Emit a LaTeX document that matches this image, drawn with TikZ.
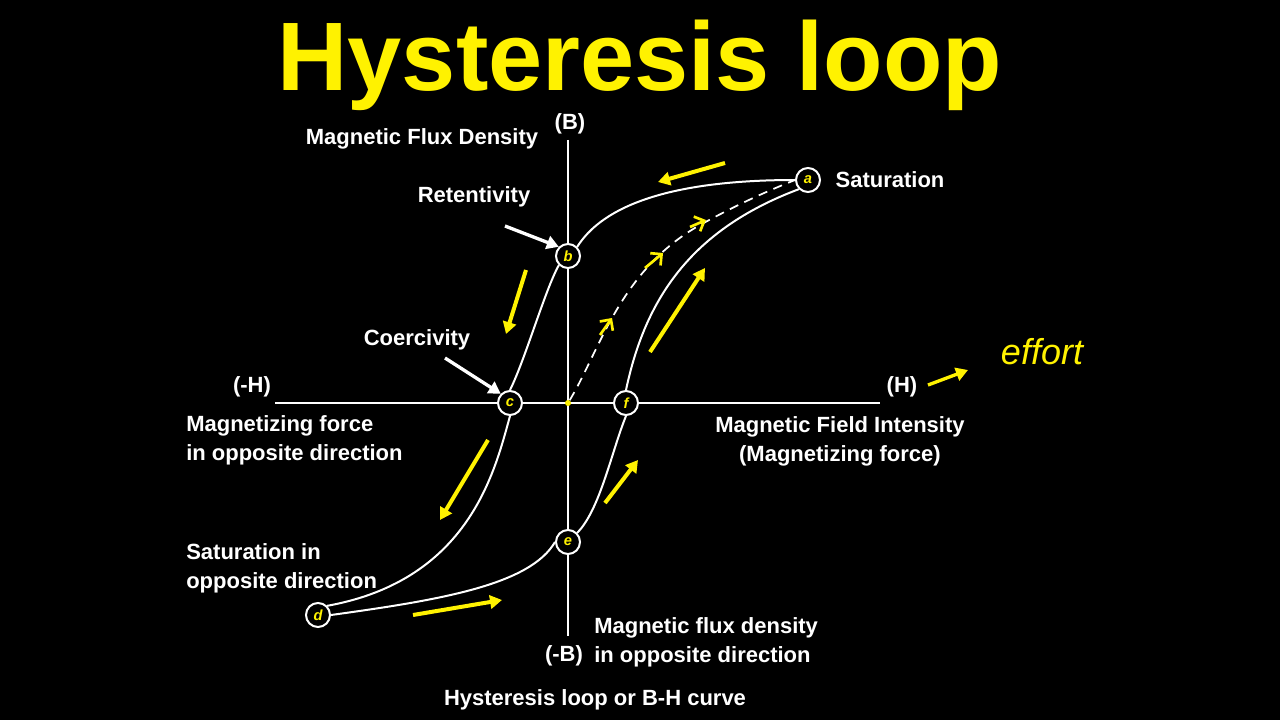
\documentclass[tikz,border=0pt]{standalone}
\usepackage{fontspec}
\setmainfont{Liberation Sans}
\usetikzlibrary{arrows.meta}
\begin{document}
\begin{tikzpicture}[x=0.75pt,y=-0.75pt,
  lbl/.style={text=white,font=\bfseries\fontsize{16.5}{19}\selectfont,align=left,inner sep=0pt},
  pt/.style={circle,draw=white,fill=black,line width=1.5pt,minimum size=18pt,inner sep=0pt,text=yellow,font=\bfseries\itshape\fontsize{11}{11}\selectfont},
  curve/.style={white,line width=1.5pt},
  yarr/.style={yellow,line width=3pt,-{Triangle[length=9pt,width=10pt]}},
  warr/.style={white,line width=2.5pt,-{Triangle[length=9pt,width=10pt]}}]
\fill[black] (0,0) rectangle (1280,720);
\useasboundingbox (0,0) rectangle (1280,720);
\node[text=yellow,font=\bfseries\fontsize{73}{76}\selectfont] (title) at (640,65) {Hysteresis loop};
% axes
\coordinate (top) at (568,140); \coordinate (bot) at (568,636);
\coordinate (lft) at (275,403); \coordinate (rgt) at (880,403);
\draw[curve] (top) -- (bot);
\draw[curve] (lft) -- (rgt);
\node[pt] (a) at (808,180) {a};
\node[pt] (b) at (568,256) {b};
\node[pt] (c) at (510,403) {c};
\node[pt] (d) at (318,615) {d};
\node[pt] (e) at (568,542) {e};
\node[pt] (f) at (626,403) {f};
\node[circle,fill=yellow,inner sep=1.6pt] (o) at (568,403) {};
% loop
\draw[curve] (a.west) .. controls (700,180) and (610,195) .. (b.north east);
\draw[curve] (b.south west) .. controls (545,290) and (525,360) .. (c.north);
\draw[curve] (c.south) .. controls (495,470) and (470,580) .. (d.north east);
\draw[curve] (d.east) .. controls (440,600) and (530,585) .. (e.west);
\draw[curve] (e.north east) .. controls (600,510) and (612,450) .. (f.south);
\draw[curve] (f.north) .. controls (645,300) and (690,230) .. (a.south west);
\draw[curve,dash pattern=on 7pt off 5pt,line width=1.3pt] (o) .. controls (600,350) and (620,270) .. (700,225) .. controls (740,203) and (770,190) .. (a.west);
% yellow arrows
\draw[yarr] (725,163) -- (658,182);
\draw[yarr] (526,270) -- (506,334);
\draw[yarr] (488,440) -- (440,520);
\draw[yarr] (413,615) -- (502,600);
\draw[yarr] (605,503) -- (638,460);
\draw[yarr] (650,352) -- (705,268);
\draw[yarr,line width=2pt,-{Straight Barb[length=6pt]}] (600,335) -- (612,318);
\draw[yarr,line width=2pt,-{Straight Barb[length=6pt]}] (645,268) -- (663,253);
\draw[yarr,line width=2pt,-{Straight Barb[length=6pt]}] (690,227) -- (706,220);
\draw[yarr,line width=2.5pt] (928,385) -- (968,370);
\node[text=yellow,font=\itshape\fontsize{27}{30}\selectfont] (eff) at (1042,352) {effort};
% white pointers
\coordinate (rt) at (505,226); \coordinate (ct) at (445,358);
\draw[warr] (rt) -- (b.north west);
\draw[warr] (ct) -- (c.north west);
% labels
\node[lbl] (B) at (570,124) {(B)};
\node[lbl] (mfd) at (422,139) {Magnetic Flux Density};
\node[lbl] (ret) at (474,197) {Retentivity};
\node[lbl] (sat) at (890,180) {Saturation};
\node[lbl] (coe) at (417,340) {Coercivity};
\node[lbl] (mH) at (252,387) {(-H)};
\node[lbl] (H) at (902,387) {(H)};
\node[lbl,anchor=north west] (mf) at (186,415) {Magnetizing force\\[3pt]in opposite direction};
\node[lbl,anchor=north west,align=center] (mfi) at (715,416) {Magnetic Field Intensity\\[3pt](Magnetizing force)};
\node[lbl,anchor=north west] (sod) at (186,543) {Saturation in\\[3pt]opposite direction};
\node[lbl] (mB) at (564,656) {(-B)};
\node[lbl,anchor=north west] (mfo) at (594,617) {Magnetic flux density\\[3pt]in opposite direction};
\node[lbl] (cap) at (595,700) {Hysteresis loop or B-H curve};
\end{tikzpicture}
\end{document}
